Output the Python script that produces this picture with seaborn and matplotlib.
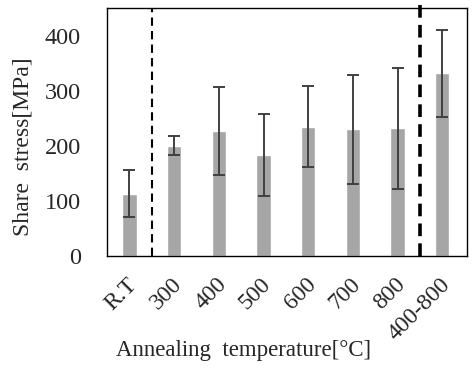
import numpy as np
import pandas as pd
import matplotlib
matplotlib.use('Agg')
import matplotlib.pyplot as plt
import matplotlib.transforms as mtransforms
import seaborn as sns

categories = ['R.T', '300', '400', '500', '600', '700', '800', '400-800']
stress = [113, 200, 227, 183, 235, 230, 232, 332]
err = [43, 17, 80, 74, 73, 99, 110, 79]

sns.set_style('white')
plt.rcParams['font.family'] = ['Liberation Serif', 'DejaVu Serif']

df = pd.DataFrame({'temp': categories, 'stress': stress})

fig = plt.figure(figsize=(4.74, 3.71), dpi=100)
ax = fig.add_axes([0.226, 0.31, 0.759, 0.668])

sns.barplot(data=df, x='temp', y='stress', color='#a6a6a6', saturation=1,
            width=0.32, errorbar=None, ax=ax)
ax.errorbar(x=np.arange(len(categories)), y=stress, yerr=err, fmt='none',
            ecolor='#404040', elinewidth=1.4, capsize=4, capthick=1.4)

# dashed separators
ax.axvline(0.5, color='black', linestyle=(0, (4, 2.5)), linewidth=1.5)
ax.axvline(6.5, ymax=1.035, color='black', linestyle=(0, (3.5, 2)),
           linewidth=2.6, clip_on=False)

ax.set_xlim(-0.5, 7.55)
ax.set_ylim(0, 450)
ax.set_yticks([0, 100, 200, 300, 400])
ax.tick_params(axis='y', labelsize=17.5, length=0, pad=19)
ax.tick_params(axis='x', labelsize=17, length=0, pad=13)
shift = mtransforms.ScaledTranslation(-3 / 100, 0, fig.dpi_scale_trans)
for lab in ax.get_xticklabels():
    lab.set_rotation(45)
    lab.set_ha('right')
    lab.set_rotation_mode('anchor')
    lab.set_transform(lab.get_transform() + shift)

for s in ax.spines.values():
    s.set_color('black')
    s.set_linewidth(1.0)

ax.set_ylabel('Share  stress[MPa]', fontsize=17)
ax.set_xlabel('Annealing  temperature[°C]', fontsize=16.5)
ax.yaxis.set_label_coords(-0.205, 0.44)
ax.xaxis.set_label_coords(0.38, -0.34)

fig.savefig('out.png', dpi=100)
